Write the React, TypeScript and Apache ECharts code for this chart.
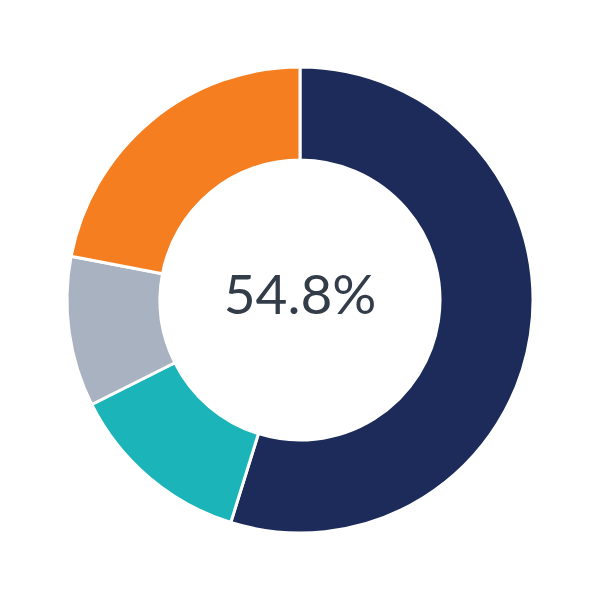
import { useEffect, useRef } from 'react';
import * as echarts from 'echarts';

const segmentNames = ['Navy', 'Teal', 'Gray', 'Orange'];
const segmentValues = [54.8, 12.8, 10.4, 22.0];
const segmentColors = ['#1c2b5a', '#1bb5b9', '#a8b2c1', '#f47e20'];
const centerLabel = '54.8%';

export default function App() {
  const chartRef = useRef<HTMLDivElement>(null);

  useEffect(() => {
    if (!chartRef.current) return;
    const chart = echarts.init(chartRef.current, null, { renderer: 'svg' });

    const option: echarts.EChartsOption = {
      animation: false,
      backgroundColor: '#ffffff',
      graphic: [
        {
          type: 'text',
          x: 300,
          y: 293,
          silent: true,
          style: {
            text: centerLabel,
            fontFamily: 'Lato',
            fontSize: 55,
            fill: '#333d4a',
            textAlign: 'center',
            textVerticalAlign: 'middle',
          },
          z: 10,
        },
      ],
      series: [
        {
          type: 'pie',
          center: [300, 300],
          radius: [140, 233],
          startAngle: 90,
          clockwise: true,
          label: { show: false },
          labelLine: { show: false },
          silent: true,
          itemStyle: {
            borderColor: '#ffffff',
            borderWidth: 3,
          },
          data: segmentNames.map((name, i) => ({
            name,
            value: segmentValues[i],
            itemStyle: { color: segmentColors[i] },
          })),
        },
      ],
    };

    chart.setOption(option);
    return () => {
      chart.dispose();
    };
  }, []);

  return (
    <div
      ref={chartRef}
      style={{ position: 'fixed', left: 0, top: 0, width: '600px', height: '600px' }}
    />
  );
}
